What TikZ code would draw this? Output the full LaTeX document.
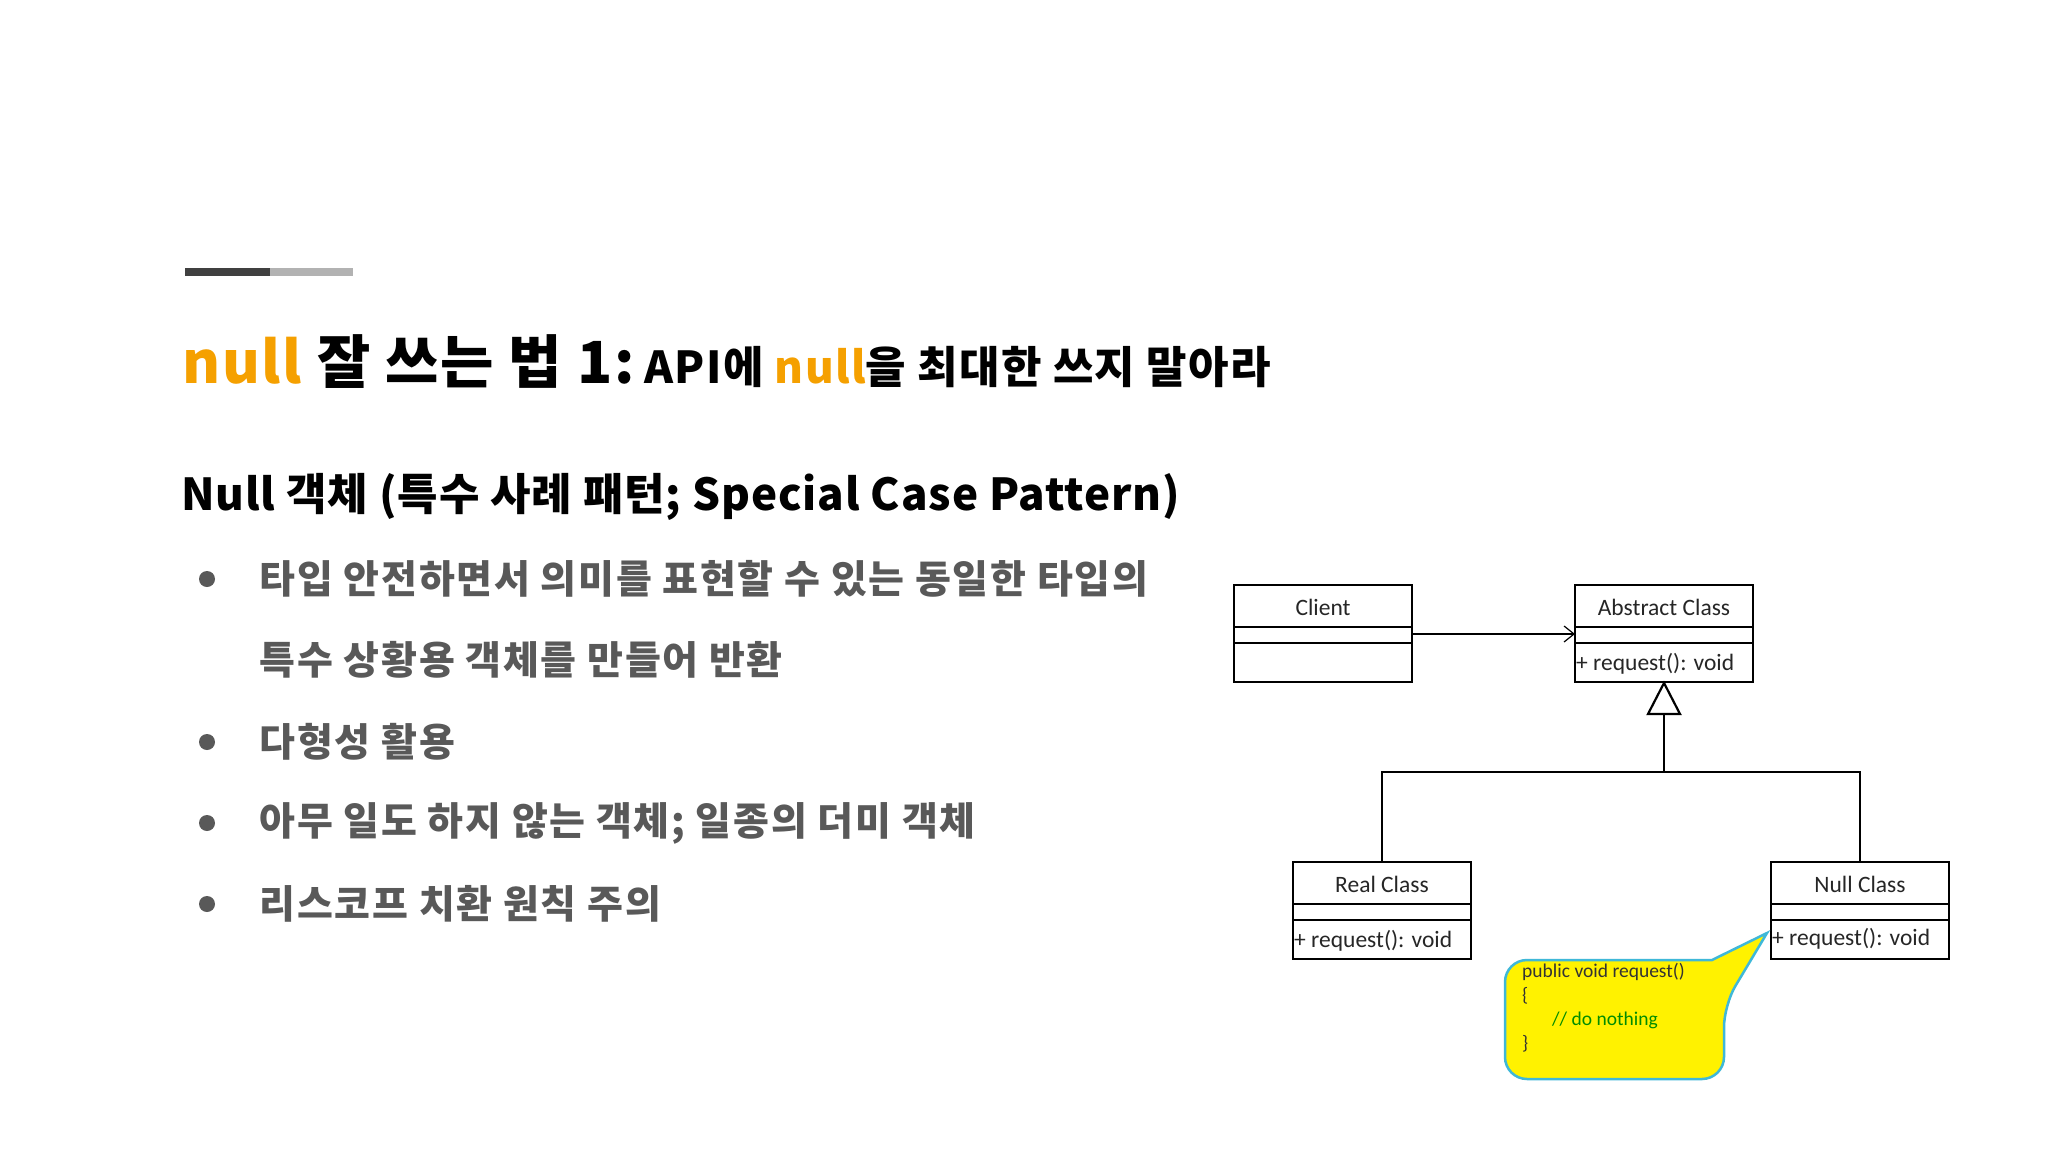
\documentclass[tikz,border=0pt]{standalone}
\usepackage{fontspec}
\setmainfont{Noto Sans CJK KR}
\newfontfamily\umlfont{Carlito}
\usetikzlibrary{arrows.meta}
\definecolor{orng}{HTML}{F5A000}
\definecolor{txtgray}{HTML}{595959}
\definecolor{callcyan}{HTML}{3FB8D8}
\tikzset{
  umlbox/.style={draw=black,line width=2.2pt,fill=white},
  umlline/.style={line width=1.2pt},
  uml/.style={font=\umlfont\fontsize{23.5}{27}\selectfont,text=black!85},
  bul/.style={anchor=west,font=\bfseries\fontsize{39}{44}\selectfont\addfontfeature{LetterSpace=4.5},text=txtgray},
}
\begin{document}
\begin{tikzpicture}[x=1pt,y=-1pt]
\useasboundingbox[fill=white] (0,0) rectangle (2048,1152);
% bars
\fill[black!75] (185,268) rectangle (270,276);
\fill[black!30] (270,268) rectangle (353,276);
% title
\node[anchor=base west,inner sep=0] (title) at (182,383)
 {\bfseries\addfontfeature{LetterSpace=3}\fontsize{58}{64}\selectfont\textcolor{orng}{null} 잘 쓰는 법 1:\,\fontsize{44}{50}\selectfont API에 \textcolor{orng}{null}을 최대한 쓰지 말아라};
\node[anchor=base west,inner sep=0] (sub) at (181,510)
 {\bfseries\addfontfeature{LetterSpace=2}\fontsize{44}{50}\selectfont Null 객체 (특수 사례 패턴; Special Case Pattern)};
% bullets
\foreach \y/\t [count=\i] in {579/타입 안전하면서 의미를 표현할 수 있는 동일한 타입의,742/다형성 활용,823/아무 일도 하지 않는 객체; 일종의 더미 객체,904/리스코프 치환 원칙 주의}{
  \fill[txtgray] (207,\y) circle (8) node[coordinate] (b\i) {};
  \node[bul] (t\i) at (256,\y) {\t};
}
\node[bul] (t0) at (256,660) {특수 상황용 객체를 만들어 반환};
% UML boxes
\newcommand\umlclass[5]{%
  \draw[umlbox] (#1,#2) rectangle (#3,#2+97);
  \draw[line width=1.6pt] (#1,#2+42) -- (#3,#2+42) (#1,#2+58) -- (#3,#2+58);
  \node[uml,anchor=center] (#4) at ({(#1+#3)/2},#2+22) {#5};
}
\umlclass{1234}{585}{1412}{client}{Client}
\umlclass{1575}{585}{1753}{abs}{Abstract Class}
\umlclass{1293}{862}{1471}{real}{Real Class}
\umlclass{1771}{862}{1949}{nullc}{Null Class}
\node[uml,anchor=west,inner sep=1pt] (absm) at (1575,664) {+ request(): void};
\node[uml,anchor=west,inner sep=1pt] (realm) at (1293,941) {+ request(): void};
\node[uml,anchor=west,inner sep=1pt] (nullm) at (1771,939) {+ request(): void};
\coordinate (cR) at (1412,634);
\coordinate (aL) at (1575,634);
\draw[umlline,-{Straight Barb[length=10pt,width=16pt]}] (cR) -- (aL);
% generalization
\coordinate (apex) at (1664,683);
\coordinate (tb) at (1664,714);
\coordinate (hj) at (1664,772);
\draw[line width=2.2pt,fill=white] (apex) -- (1648,714) -- (1680,714) -- cycle;
\draw[umlline] (tb) -- (hj) -- (1382,772) -- (1382,862);
\draw[umlline] (hj) -- (1860,772) -- (1860,862);
% callout
\coordinate (tip) at (1767,933);
\draw[draw=callcyan,line width=2.5pt,fill=yellow,rounded corners=22pt]
  (1505,1020) -- (1505,1079) -- (1724,1079) -- (1724,1005)
  [sharp corners] -- (tip) -- (1712,960) [rounded corners=22pt] -- (1505,960) -- (1505,1020) -- cycle;
\node[anchor=north west,align=left,inner sep=0,font=\umlfont\fontsize{19.5}{24}\selectfont,text=black!80] (code) at (1522,963)
 {public void request()\\\{\\\hspace*{30pt}\textcolor{green!55!black}{// do nothing}\\\}};
\end{tikzpicture}
\end{document}
